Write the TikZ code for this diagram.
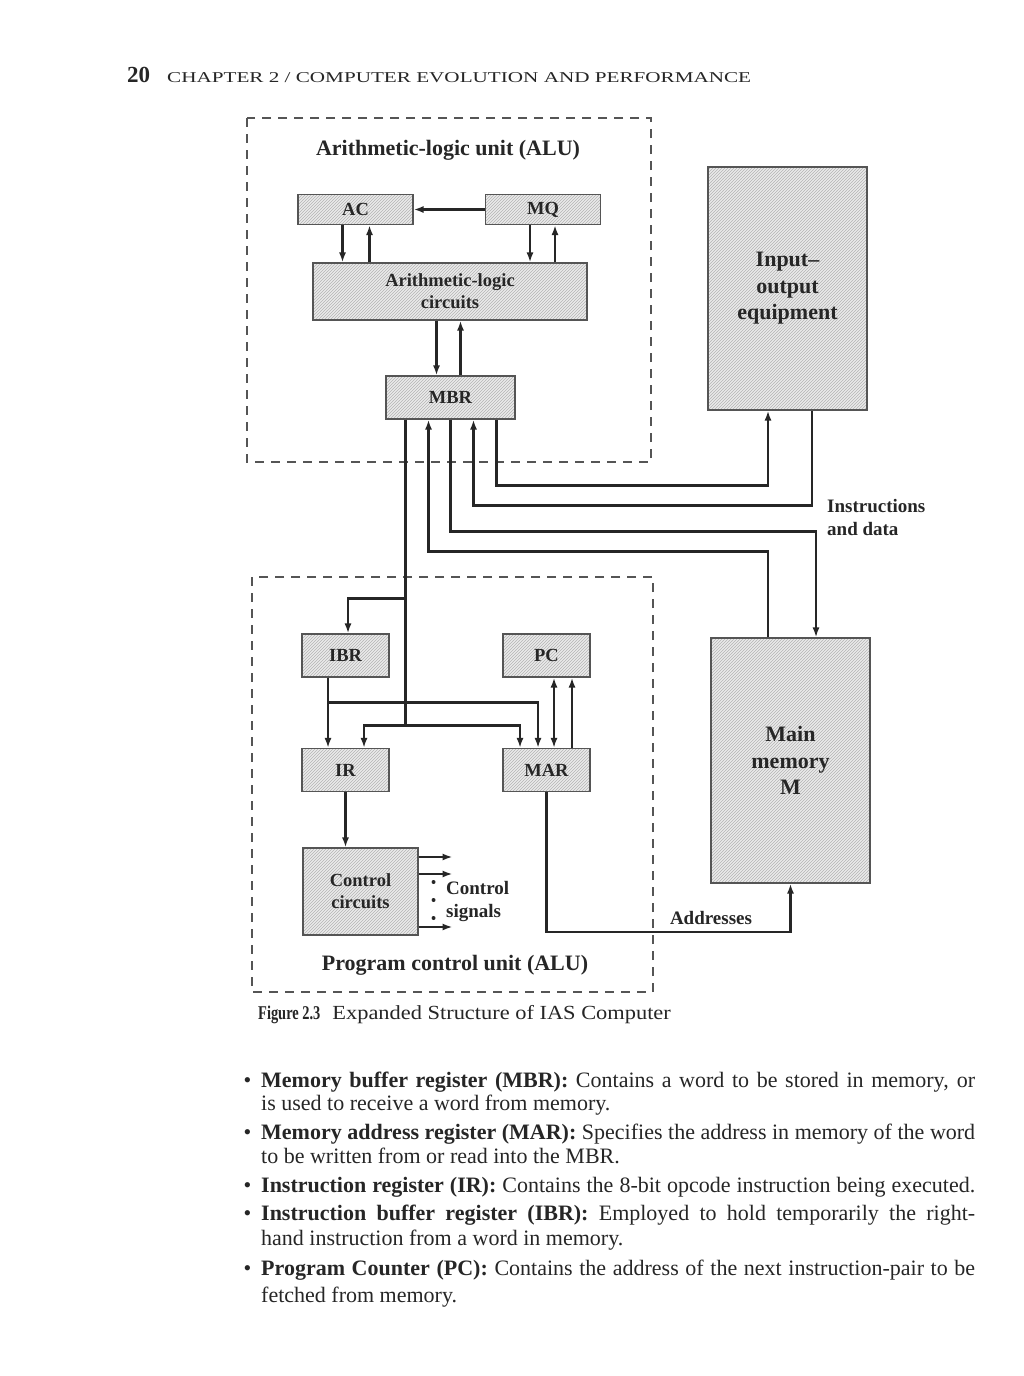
\documentclass[tikz,border=0pt]{standalone}
\usepackage{fontspec}
\setmainfont{Liberation Serif}
\newfontfamily\headfont[FakeStretch=1.41]{Liberation Serif}
\newfontfamily\capfont[FakeStretch=0.74]{Liberation Serif}
\newfontfamily\capwide[FakeStretch=1.12]{Liberation Serif}
\usetikzlibrary{
  arrows.meta,
  calc,
  patterns,
  positioning
}
\definecolor{iasInk}{HTML}{262626}
\definecolor{iasEdge}{HTML}{555555}
\definecolor{iasFill}{HTML}{EBEBEB}
\definecolor{iasHatch}{HTML}{B4B4B4}
\newcommand\bodyfull[1]{\makebox[714pt][s]{#1}}
\newcommand\bodybullet{\llap{\textbullet\hspace{10pt}}}
\tikzset{
  reg/.style={
    draw=iasEdge, line width=1.1pt, preaction={fill=iasFill},
    pattern=north east lines, pattern color=iasHatch,
    text=iasInk, font=\fontsize{18.5}{22}\selectfont\bfseries,
    align=center, inner sep=0pt
  },
  unit/.style={reg, font=\fontsize{22}{26.5}\selectfont\bfseries},
  zone/.style={draw=iasEdge, line width=1.2pt, dash pattern=on 9pt off 7pt},
  wire/.style={draw=iasInk, line width=2.2pt},
  bus/.style={wire, -{Latex[length=10pt,width=7pt]}},
  dbus/.style={wire, {Latex[length=10pt,width=7pt]}-{Latex[length=10pt,width=7pt]}},
  tag/.style={text=iasInk, font=\fontsize{19}{23}\selectfont\bfseries, align=left, inner sep=0pt},
  headline/.style={text=iasInk, font=\fontsize{22}{26}\selectfont\bfseries, inner sep=0pt},
  bodyline/.style={anchor=base west, inner sep=0pt, text=iasInk, font=\fontsize{22}{25}\selectfont}
}

\begin{document}
\begin{tikzpicture}[x=1pt,y=-1pt]
  \fill[white] (0,0) rectangle (1024,1376);
  \useasboundingbox (0,0) rectangle (1024,1376);

  % running head
  \node[anchor=base west, inner sep=0pt, text=iasInk, font=\fontsize{23}{26}\selectfont\bfseries] (pgno) at (127,82) {20};
  \node[anchor=base west, inner sep=0pt, text=iasInk, font=\headfont\fontsize{15}{18}\selectfont] (runhead) at (167,82) {CHAPTER 2 / COMPUTER EVOLUTION AND PERFORMANCE};

  % ALU
  \draw[zone] (247,118) rectangle (651,462);
  \node[headline] (alutitle) at (448,150) {Arithmetic-logic unit (ALU)};
  \node[reg, minimum width=115pt, minimum height=30pt] (ac) at (355.5,209.5) {AC};
  \node[reg, minimum width=115pt, minimum height=30pt] (mq) at (543,209.5) {MQ};
  \node[reg, minimum width=274pt, minimum height=57pt] (alc) at (450,291.5) {Arithmetic-logic\\circuits};
  \node[reg, minimum width=129pt, minimum height=43pt] (mbr) at (450.5,397.5) {MBR};

  % I/O and memory
  \node[unit, minimum width=159pt, minimum height=243pt] (io) at (787.5,288.5) {Input--\\output\\equipment};
  \node[unit, minimum width=159pt, minimum height=245pt] (mem) at (790.5,760.5) {Main\\memory\\M};

  % program control unit
  \draw[zone] (252,577) rectangle (653,992);
  \node[reg, minimum width=87pt, minimum height=43pt] (ibr) at (345.5,655.5) {IBR};
  \node[reg, minimum width=87pt, minimum height=43pt] (pc) at (546.5,655.5) {PC};
  \node[reg, minimum width=87pt, minimum height=43pt] (ir) at (345.5,770) {IR};
  \node[reg, minimum width=87pt, minimum height=43pt] (mar) at (546.5,770) {MAR};
  \node[reg, minimum width=115pt, minimum height=87pt] (ctl) at (360.5,891.5) {Control\\circuits};
  \node[headline] (pcutitle) at (455,965) {Program control unit (ALU)};

  % ALU paths
  \draw[bus] (mq.west) -- (ac.east);
  \draw[bus] ([xshift=-13pt]ac.south) -- ([xshift=-13pt]ac.south |- alc.north);
  \draw[bus] ([xshift=14pt]ac.south |- alc.north) -- ([xshift=14pt]ac.south);
  \draw[bus] ([xshift=-13pt]mq.south) -- ([xshift=-13pt]mq.south |- alc.north);
  \draw[bus] ([xshift=12pt]mq.south |- alc.north) -- ([xshift=12pt]mq.south);
  \draw[bus] ([xshift=-14pt]mbr.north |- alc.south) -- ([xshift=-14pt]mbr.north);
  \draw[bus] ([xshift=10pt]mbr.north) -- ([xshift=10pt]mbr.north |- alc.south);

  % instructions and data
  \draw[bus] ([xshift=46pt]mbr.south) -- ++(0,66) -| ([xshift=-19.5pt]io.south);
  \draw[bus] ([xshift=24.5pt]io.south) -- ++(0,95) -| ([xshift=23pt]mbr.south);
  \draw[bus] (mbr.south) -- ++(0,112) -| ([xshift=25.5pt]mem.north);
  \draw[bus] ([xshift=-22.5pt]mem.north) -- ++(0,-86) -| ([xshift=-22pt]mbr.south);
  \node[tag, anchor=west] (instr) at (827,517) {Instructions\\and data};

  % into the control unit
  \draw[wire] ([xshift=-45pt]mbr.south) -- ++(0,179) coordinate (ibrtap) -- ++(0,127) coordinate (split);
  \draw[bus] (ibrtap) -| ([xshift=2.5pt]ibr.north);
  \draw[bus] (split) -| ([xshift=18.5pt]ir.north);
  \draw[bus] (split) -| ([xshift=-26.5pt]mar.north);
  \draw[bus] ([xshift=-17.5pt]ibr.south) -- ++(0,25) coordinate (irtap) -- ([xshift=-17.5pt]ir.north);
  \draw[bus] (irtap) -| ([xshift=-8.5pt]mar.north);
  \draw[dbus] ([xshift=7.5pt]mar.north) -- ([xshift=7.5pt]pc.south);
  \draw[bus] ([xshift=25.5pt]mar.north) -- ([xshift=25.5pt]pc.south);
  \draw[bus] (ir.south) -- (ir.south |- ctl.north);

  % control signals
  \foreach \dy in {-34.5,-17.5,35.5}
    \draw[bus] ($(ctl.east)+(0,\dy)$) -- ++(34,0);
  \foreach \dy in {-9.5,8.5,26.5}
    \fill[iasInk] ($(ctl.east)+(15,\dy)$) circle (2pt);
  \node[tag, anchor=west] (sig) at (446,901) {Control\\signals};

  % addresses
  \draw[bus] (mar.south) -- ++(0,140) -| (mem.south);
  \node[tag] (addr) at (711,918) {Addresses};

  % caption
  \node[anchor=base west, inner sep=0pt, text=iasInk] (caption) at (258,1019)
    {{\capfont\fontsize{19.5}{22}\selectfont\bfseries Figure 2.3}\hspace{12pt}{\capwide\fontsize{20}{22}\selectfont Expanded Structure of IAS Computer}};

  % register list
  \foreach \yy/\txt in {
    1087/{\bodyfull{\bodybullet\textbf{Memory buffer register (MBR):} Contains a word to be stored in memory, or}},
    1110/{is used to receive a word from memory.},
    1139/{\bodyfull{\bodybullet\textbf{Memory address register (MAR):} Specifies the address in memory of the word}},
    1163/{to be written from or read into the MBR.},
    1192/{\bodyfull{\bodybullet\textbf{Instruction register (IR):} Contains the 8-bit opcode instruction being executed.}},
    1220/{\bodyfull{\bodybullet\textbf{Instruction buffer register (IBR):} Employed to hold temporarily the right-}},
    1245/{hand instruction from a word in memory.},
    1275/{\bodyfull{\bodybullet\textbf{Program Counter (PC):} Contains the address of the next instruction-pair to be}},
    1302/{fetched from memory.}}{
    \node[bodyline] (line\yy) at (261,\yy) {\txt};
  }
\end{tikzpicture}
\end{document}
